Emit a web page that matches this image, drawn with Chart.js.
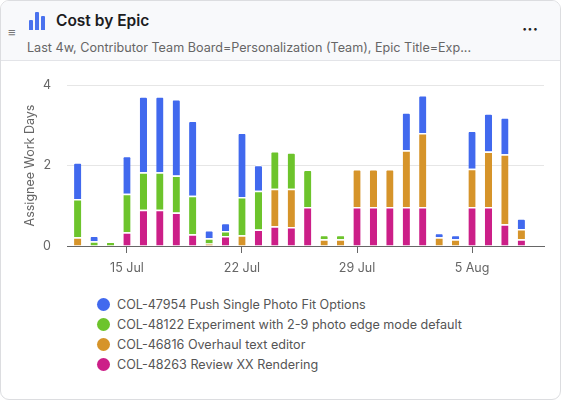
<!DOCTYPE html>
<html>
<head>
<meta charset="utf-8">
<script src="https://cdn.jsdelivr.net/npm/chart.js@4/dist/chart.umd.min.js"></script>
<style>
  body { margin: 0; background: #fff; font-family: Inter, "Noto Sans", sans-serif; }
  #card { position: absolute; left: 0; top: 0; width: 559px; height: 398px; border: 1px solid #dcdde0; border-radius: 9px; overflow: hidden; background: #fff; }
  #head { position: absolute; left: 0; top: 0; width: 559px; height: 59px; background: #f8f9fb; border-bottom: 1px solid #e3e4e8; }
  #burger { position: absolute; left: 7px; top: 23px; color: #777; font-size: 13px; }
  .ib { position: absolute; width: 3.5px; background: #4a72ee; border-radius: 1px 1px 0 0; bottom: 30px; }
  #title { position: absolute; left: 55px; top: 10px; font-size: 15.5px; font-weight: 600; color: #1d1d1f; }
  #dots { position: absolute; left: 521px; top: 18px; font-size: 16px; font-weight: 700; color: #222; }
  #sub { position: absolute; left: 26px; top: 39px; font-size: 12.6px; color: #666; white-space: nowrap; }
  #wrap { position: absolute; left: 0; top: 60px; width: 559px; height: 231px; }
  #legend { position: absolute; left: 96px; top: 293px; }
  .li { height: 20px; display: flex; align-items: center; font-size: 12.6px; color: #555; }
  .dot { width: 13px; height: 13px; border-radius: 50%; margin-right: 7px; }
</style>
</head>
<body>
<div id="card">
  <div id="head">
    <div id="burger">&#8801;</div>
    <div class="ib" style="left:28px;height:10px"></div>
    <div class="ib" style="left:34px;height:18px"></div>
    <div class="ib" style="left:40px;height:14px"></div>
    <div id="title">Cost by Epic</div>
    <div id="dots">&middot;&middot;&middot;</div>
    <div id="sub">Last 4w, Contributor Team Board=Personalization (Team), Epic Title=Exp...</div>
  </div>
  <div id="wrap"><canvas id="chart"></canvas></div>
  <div id="legend"></div>
</div>
<script>
// days shown on the x axis, one bar per day
const dates = ["12 Jul", "13 Jul", "14 Jul", "15 Jul", "16 Jul", "17 Jul", "18 Jul",
  "19 Jul", "20 Jul", "21 Jul", "22 Jul", "23 Jul", "24 Jul", "25 Jul", "26 Jul",
  "27 Jul", "28 Jul", "29 Jul", "30 Jul", "31 Jul", "1 Aug", "2 Aug", "3 Aug",
  "4 Aug", "5 Aug", "6 Aug", "7 Aug", "8 Aug"];
const tickDates = ["15 Jul", "22 Jul", "29 Jul", "5 Aug"];
const yTicks = [0, 2, 4];

// assignee work days per epic (bottom of stack first)
const review = [0, 0, 0, 0.34, 0.9, 0.9, 0.83, 0.29, 0, 0.25, 0, 0.41, 0.49, 0.47,
  0.97, 0, 0, 0.97, 0.97, 0.97, 0.97, 0.97, 0, 0, 0.97, 0.97, 0.54, 0.17];
const overhaul = [0.22, 0, 0, 0, 0, 0, 0, 0, 0.06, 0, 0.27, 0, 0.93, 0.95,
  0, 0.17, 0.17, 0.94, 0.94, 0.94, 1.41, 1.84, 0.22, 0.17, 0.95, 1.38, 1.74, 0.25];
const experiment = [0.95, 0.12, 0.11, 0.96, 0.93, 0.93, 0.92, 0.96, 0.13, 0.12, 0.95, 0.96, 0.94, 0.91,
  0.93, 0.11, 0.11, 0, 0, 0, 0, 0, 0, 0, 0, 0, 0, 0];
const pushPhoto = [0.91, 0.14, 0, 0.94, 1.89, 1.89, 1.9, 1.87, 0.21, 0.21, 1.6, 0.65, 0, 0,
  0, 0, 0, 0, 0, 0, 0.94, 0.94, 0.11, 0.11, 0.95, 0.95, 0.92, 0.27];

const seriesNames = ["COL-48263 Review XX Rendering", "COL-46816 Overhaul text editor",
  "COL-48122 Experiment with 2-9 photo edge mode default", "COL-47954 Push Single Photo Fit Options"];
const seriesData = [review, overhaul, experiment, pushPhoto];
const seriesColors = ["#cc1f88", "#d6942a", "#6dc42c", "#4169ee"];

const grey = "#666";
const font = { family: "Inter, 'Noto Sans', sans-serif", size: 12.5 };

const datasets = seriesData.map((vals, s) => ({
  label: seriesNames[s],
  data: vals.map((v, i) => ({ x: i, y: v })),
  backgroundColor: seriesColors[s],
  borderColor: "#fff",
  borderWidth: { top: 1.5, left: 0, right: 0, bottom: 0 },
  borderRadius: 2.5,
  barPercentage: 0.44,
  categoryPercentage: 1
}));

const chart = new Chart(document.getElementById("chart"), {
  type: "bar",
  data: { datasets: datasets },
  options: {
    responsive: true,
    maintainAspectRatio: false,
    animation: false,
    layout: { padding: { top: 24, right: 16, left: 0, bottom: 0 } },
    plugins: { legend: { display: false }, tooltip: { enabled: false } },
    scales: {
      x: {
        type: "linear",
        stacked: true,
        offset: false,
        min: -0.65,
        max: 28.38,
        afterBuildTicks: (s) => { s.ticks = tickDates.map(d => ({ value: dates.indexOf(d) })); },
        afterFit: (s) => { s.height = 46; },
        ticks: { callback: (v) => dates[v], color: grey, font: font, padding: 8, maxRotation: 0, autoSkip: false },
        grid: { offset: false, drawOnChartArea: false, drawTicks: true, tickLength: 7, color: grey },
        border: { display: true, color: grey, width: 1 }
      },
      y: {
        stacked: true,
        min: 0,
        max: 4,
        afterBuildTicks: (s) => { s.ticks = yTicks.map(v => ({ value: v })); },
        afterFit: (s) => { s.width = 66; },
        ticks: { color: grey, font: font, padding: 16 },
        grid: { color: "#e6e6e6", drawTicks: false },
        border: { display: false },
        title: { display: true, text: "Assignee Work Days", color: grey, font: font, padding: { top: 22, bottom: 0 } }
      }
    }
  }
});

// legend, top of stack first
const legend = document.getElementById("legend");
for (let s = seriesNames.length - 1; s >= 0; s--) {
  const row = document.createElement("div");
  row.className = "li";
  row.innerHTML = '<span class="dot" style="background:' + seriesColors[s] + '"></span>' + seriesNames[s];
  legend.appendChild(row);
}
</script>
</body>
</html>
